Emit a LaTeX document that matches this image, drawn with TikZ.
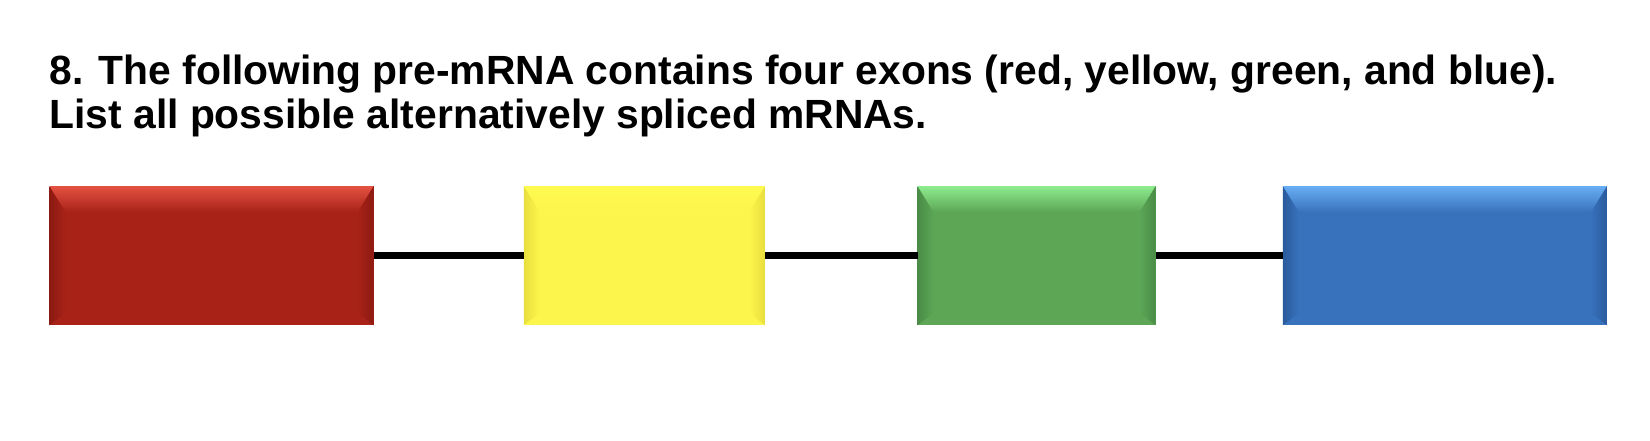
\documentclass[tikz,border=0pt]{standalone}
\usepackage{fontspec}
\setmainfont{Liberation Sans}
\usetikzlibrary{calc,positioning}

\definecolor{redbase}{RGB}{168,34,24}
\definecolor{redlight}{RGB}{228,82,66}
\definecolor{reddark}{RGB}{140,26,18}
\definecolor{yellowbase}{RGB}{252,246,76}
\definecolor{yellowlight}{RGB}{255,250,80}
\definecolor{yellowdark}{RGB}{232,222,62}
\definecolor{greenbase}{RGB}{92,166,86}
\definecolor{greenlight}{RGB}{142,236,142}
\definecolor{greendark}{RGB}{74,140,70}
\definecolor{bluebase}{RGB}{56,114,188}
\definecolor{bluelight}{RGB}{104,174,244}
\definecolor{bluedark}{RGB}{42,90,156}

\tikzset{
  exon/.style={rectangle, minimum height=139pt},
  intron/.style={draw=black, line width=6.5pt},
  question/.style={anchor=base west, font=\fontsize{40.8}{44}\selectfont\bfseries}
}

% bevelled edges of an exon box: node, base, light, dark
\newcommand{\exonbevel}[4]{%
  \shade[left color=#4, right color=#2] (#1.north west) -- ($(#1.north west)+(16,26)$)
    -- ($(#1.south west)+(16,-12)$) -- (#1.south west) -- cycle;
  \shade[left color=#2, right color=#4] (#1.north east) -- ($(#1.north east)+(-16,26)$)
    -- ($(#1.south east)+(-16,-12)$) -- (#1.south east) -- cycle;
  \shade[top color=#3, bottom color=#2] (#1.north west) -- (#1.north east)
    -- ($(#1.north east)+(-16,26)$) -- ($(#1.north west)+(16,26)$) -- cycle;
}

\begin{document}
\begin{tikzpicture}[x=1pt, y=1pt, yscale=-1, inner sep=0pt, outer sep=0pt]
\useasboundingbox (0,0) rectangle (1650,440);

\node[question] (line1) at (49.5,84) {8. The following pre-mRNA contains four exons (red, yellow, green, and blue).};
\node[question] (line2) at (49.5,128) {List all possible alternatively spliced mRNAs.};

\node[exon, fill=redbase, minimum width=324pt] (red) at (211.5,255.5) {};
\node[exon, fill=yellowbase, minimum width=241pt, right=150.4pt of red] (yellow) {};
\node[exon, fill=greenbase, minimum width=238pt, right=152.6pt of yellow] (green) {};
\node[exon, fill=bluebase, minimum width=324pt, right=127.4pt of green] (blue) {};

\exonbevel{red}{redbase}{redlight}{reddark}
\exonbevel{yellow}{yellowbase}{yellowlight}{yellowdark}
\exonbevel{green}{greenbase}{greenlight}{greendark}
\exonbevel{blue}{bluebase}{bluelight}{bluedark}

\draw[intron] (red) -- (yellow);
\draw[intron] (yellow) -- (green);
\draw[intron] (green) -- (blue);

\end{tikzpicture}
\end{document}
